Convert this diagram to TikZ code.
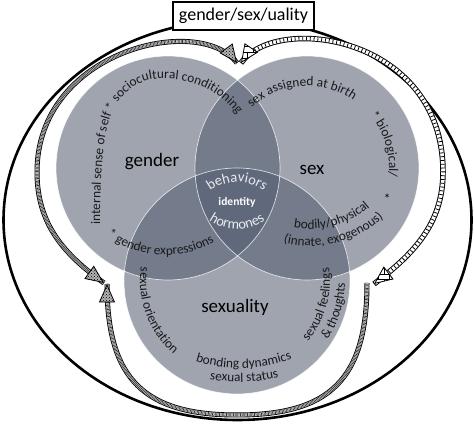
\documentclass[tikz,border=0pt]{standalone}
\usepackage{fontspec}
\setmainfont{Carlito}
\usetikzlibrary{calc,shapes.geometric,patterns,decorations.text,decorations.markings}

\definecolor{vennfill}{RGB}{80,90,110}
\newcommand\arcfont{\fontsize{13.3}{15}\selectfont}
\newcommand\midfont{\fontsize{14.5}{16}\selectfont}

\begin{document}
\begin{tikzpicture}[x=1pt, y=1pt,
    every node/.style={font=\fontsize{19}{22}\selectfont},
    venn/.style={fill=vennfill, fill opacity=0.55},
    rim/.style={draw=white, line width=0.7pt, draw opacity=0.75},
    arctext/.style={decorate, decoration={text along path, text align=center, text color=black!90, text={|\arcfont|#1}}},
    arcwhite/.style={decorate, decoration={text along path, text align=center, text color=white!88!vennfill, text={|\midfont|#1}}},
    headc/.style={isosceles triangle, isosceles triangle stretches, minimum width=15pt, minimum height=17pt, inner sep=0pt, transform shape, anchor=apex, solid, draw=black, line width=0.8pt, preaction={fill=black!30}, pattern=crosshatch dots},
    headl/.style={headc, preaction={fill=white}, pattern=bricks},
    bandc/.style={draw=black, line width=5pt,
        postaction={draw=white, line width=3.2pt},
        postaction={draw=black!80, line width=3.2pt, dash pattern=on 0.7pt off 0.7pt},
        postaction={decorate, decoration={markings,
            mark=at position 0 with {\node[headc, shape border rotate=180] {};},
            mark=at position 1 with {\node[headc] {};}}}},
    bandl/.style={draw=black, line width=5.5pt,
        postaction={draw=white, line width=3.6pt},
        postaction={draw=black, line width=3.6pt, dash pattern=on 0.8pt off 3pt},
        postaction={decorate, decoration={markings,
            mark=at position 0 with {\node[headl, shape border rotate=180] {};},
            mark=at position 1 with {\node[headl] {};}}}}]
    \useasboundingbox (0,0) rectangle (474,425);

    % circle centres
    \coordinate (gc) at (168,257);
    \coordinate (sc) at (307,257);
    \coordinate (xc) at (237,144);

    % venn circles
    \fill[venn] (gc) circle[radius=112];
    \fill[venn] (sc) circle[radius=112];
    \fill[venn] (xc) circle[radius=113];
    \draw[rim] (gc) circle[radius=112];
    \draw[rim] (sc) circle[radius=112];
    \draw[rim] (xc) circle[radius=113];

    % outer frame
    \draw[line width=2.6pt] (237.5,205) ellipse[x radius=234, y radius=200];

    % arrow ends
    \coordinate (gs) at (237,362);
    \coordinate (gx) at (104,142);
    \coordinate (rs) at (241,362);
    \coordinate (rx) at (374,141);
    \coordinate (bl) at (107,141);
    \coordinate (br) at (367,142);

    % arrows
    \path[bandc] (gs) .. controls (200,412) and (37,375) .. (37,253)
        .. controls (37,200) and (65,170) .. (gx);
    \path[bandl] (rs) .. controls (275,412) and (443,390) .. (443,253)
        .. controls (443,200) and (412,170) .. (rx);
    \path[bandc] (bl) .. controls (107,45) and (145,10) .. (237,10)
        .. controls (329,10) and (367,45) .. (br);

    % title
    \node[draw, line width=2.2pt, fill=white, minimum width=141pt, minimum height=28pt, inner sep=2pt, font=\fontsize{18}{20}\selectfont] (title) at (243.5,409) {gender/sex/uality};

    % main labels
    \node[anchor=base] (gender) at (152,258) {gender};
    \node[anchor=base] (sex) at (312,250) {sex};
    \node[anchor=base] (sexuality) at (235,112) {sexuality};
    \node[anchor=base, text=white, font=\bfseries\fontsize{11.5}{13}\selectfont] (identity) at (237,219) {identity};

    % gender texts
    \coordinate (ge) at (165,268);
    \path[arctext={internal sense of self * sociocultural conditioning}] (100,188) .. controls (100,250) and (102,300) .. (117,322)
        .. controls (135,345) and (150,347) .. (170,346) .. controls (205,344) and (230,325) .. (244,300);
    \path[arctext={* gender expressions}] ($(ge)+(225:98)$) arc[start angle=225, end angle=309, radius=98];

    % sex texts
    \path[arctext={sex assigned at birth}] ($(sc)+(136:82)$) arc[start angle=136, end angle=52, radius=82];
    \path[arctext={* biological/}] ($(sc)+(47:82)$) arc[start angle=47, end angle=-13, radius=82];
    \node[font=\arcfont] (star) at ($(sc)+(-21:86)$) {*};
    \coordinate (bc) at (310,289);
    \path[arctext={bodily/physical}] ($(bc)+(250:93)$) arc[start angle=250, end angle=320, radius=93];
    \path[arctext={(innate, exogenous)}] ($(bc)+(250:110)$) arc[start angle=250, end angle=318, radius=110];

    % sexuality texts
    \path[arctext={sexual orientation}] ($(xc)+(167:97)$) arc[start angle=167, end angle=234, radius=97];
    \path[arctext={sexual feelings}] ($(xc)+(-50:93)$) arc[start angle=-50, end angle=18, radius=93];
    \path[arctext={{\&} thoughts}] ($(xc)+(-46:108)$) arc[start angle=-46, end angle=12, radius=108];
    \coordinate (dc) at (240,207);
    \path[arctext={bonding dynamics}] ($(dc)+(245:150)$) arc[start angle=245, end angle=298, radius=150];
    \path[arctext={sexual status}] ($(dc)+(253:164)$) arc[start angle=253, end angle=290, radius=164];

    % identity texts
    \coordinate (bhc) at (237,199);
    \coordinate (hmc) at (237,244);
    \path[arcwhite={behaviors}] ($(bhc)+(135:44)$) arc[start angle=135, end angle=45, radius=44];
    \path[arcwhite={hormones}] ($(hmc)+(225:48)$) arc[start angle=225, end angle=315, radius=48];
\end{tikzpicture}
\end{document}
